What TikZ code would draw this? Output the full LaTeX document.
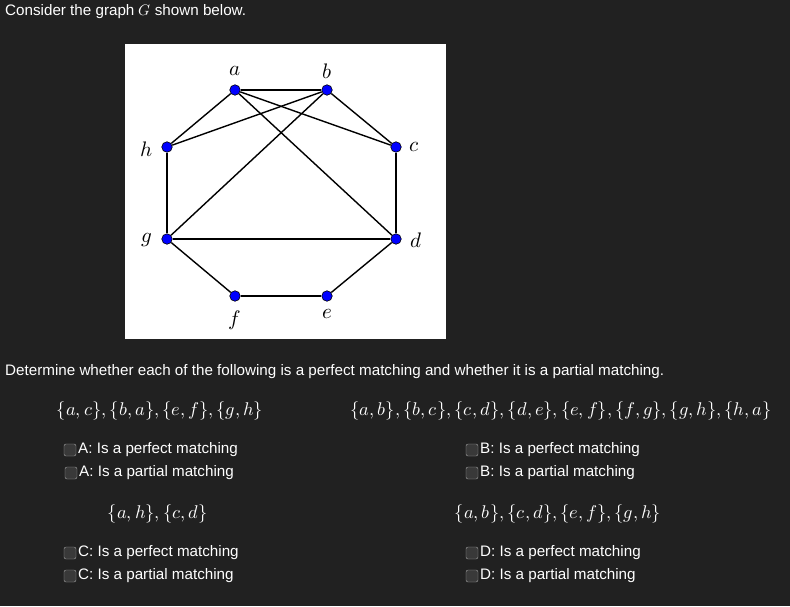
\documentclass[tikz,border=0pt]{standalone}
\usepackage{fontspec}
\setmainfont{Liberation Sans}
\usepackage{unicode-math}
\setmathfont{Latin Modern Math}
\begin{document}
\begin{tikzpicture}[x=1pt,y=-1pt,
  vtx/.style={circle,fill=blue,draw=black,line width=0.6pt,inner sep=0pt,minimum size=10.5pt},
  edge/.style={line width=1.4pt,black},
  lbl/.style={font=\fontsize{21}{21}\selectfont,text=black},
  txt/.style={font=\fontsize{15.2}{17}\selectfont,text=white,anchor=west,inner sep=0pt},
  mth/.style={font=\fontsize{18.4}{20}\selectfont,text=white,inner sep=0pt},
  cbox/.style={draw=gray!70,fill=gray!45!black,rounded corners=2pt,minimum size=12pt,inner sep=0pt}]
\fill[black!87] (0,0) rectangle (790,606);
\useasboundingbox (0,0) rectangle (790,606);
\fill[white] (125,44) rectangle (446,339);
\node[vtx] (a) at (235,90) {};
\node[vtx] (b) at (327,90) {};
\node[vtx] (c) at (396,147) {};
\node[vtx] (d) at (396,239) {};
\node[vtx] (e) at (327,296) {};
\node[vtx] (f) at (235,296) {};
\node[vtx] (g) at (167,239) {};
\node[vtx] (h) at (167,147) {};
\foreach \u/\v in {a/b,a/h,a/c,a/d,b/h,b/g,b/c,h/g,c/d,g/d,g/f,f/e,e/d}
  \draw[edge] (\u) -- (\v);
\node[lbl] (la) at (235,71) {$a$};
\node[lbl] (lb) at (327,71) {$b$};
\node[lbl] (lc) at (414,147) {$c$};
\node[lbl] (ld) at (416,240) {$d$};
\node[lbl] (le) at (327,314) {$e$};
\node[lbl] (lf) at (235,320) {$f$};
\node[lbl] (lg) at (147,240) {$g$};
\node[lbl] (lh) at (147,149) {$h$};
\node[txt] (t1) at (5,12) {Consider the graph $G$ shown below.};
\node[txt] (t2) at (5,372) {Determine whether each of the following is a perfect matching and whether it is a partial matching.};
\node[mth] (m1) at (160,411) {$\{a,c\},\{b,a\},\{e,f\},\{g,h\}$};
\node[mth] (m2) at (561,411) {$\{a,b\},\{b,c\},\{c,d\},\{d,e\},\{e,f\},\{f,g\},\{g,h\},\{h,a\}$};
\node[mth] (m3) at (158,514) {$\{a,h\},\{c,d\}$};
\node[mth] (m4) at (558,514) {$\{a,b\},\{c,d\},\{e,f\},\{g,h\}$};
\foreach \x/\y/\s in {70/450/A: Is a perfect matching,71/473/A: Is a partial matching,
  472/450/B: Is a perfect matching,472/473/B: Is a partial matching,
  70/553/C: Is a perfect matching,70/576/C: Is a partial matching,
  472/553/D: Is a perfect matching,472/576/D: Is a partial matching}{
  \node[cbox] (cb) at (\x,\y) {};
  \node[txt] (ct) at (\x+8,\y) {\s};
}
\end{tikzpicture}
\end{document}
